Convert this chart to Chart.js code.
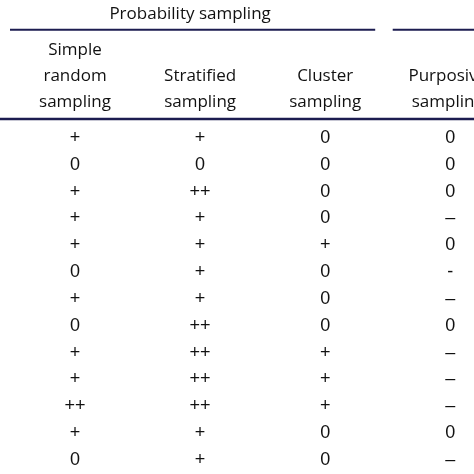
<!DOCTYPE html>
<html><head><meta charset="utf-8">
<script src="https://cdn.jsdelivr.net/npm/chart.js@4"></script>
<style>html,body{margin:0;padding:0;background:#fff}#w{width:474px;height:474px}</style>
</head><body><div id="w"><canvas id="c"></canvas></div>
<script>
const groupTitle = "Probability sampling";
const columns = [["Simple","random","sampling"],["Stratified","sampling"],["Cluster","sampling"],["Purposive","sampling"]];
const simpleRandom = ["+","0","+","+","+","0","+","0","+","+","++","+","0"];
const stratified   = ["+","0","++","+","+","+","+","++","++","++","++","+","+"];
const cluster      = ["0","0","0","0","+","0","0","0","+","+","+","0","0"];
const purposive    = ["0","0","0","–","0","-","–","0","–","–","–","0","–"];
const cols = [simpleRandom, stratified, cluster, purposive];

const pts = [];
cols.forEach((c, ci) => c.forEach((v, ri) => pts.push({x: ci, y: ri, t: v})));

const tablePlugin = {
  id: 'table',
  afterDatasetsDraw(chart) {
    const ctx = chart.ctx, xs = chart.scales.x, ys = chart.scales.y;
    const X = v => xs.getPixelForValue(v), Y = v => ys.getPixelForValue(v);
    ctx.save();
    ctx.fillStyle = '#111';
    ctx.textAlign = 'center'; ctx.textBaseline = 'middle';
    ctx.font = '17px "Open Sans"';
    ctx.fillText(groupTitle, X(0.92), Y(-4.62));
    const rowsY = [-1.34, -2.31, -3.28];
    columns.forEach((lines, ci) => {
      lines.slice().reverse().forEach((l, k) => ctx.fillText(l, X(ci === 3 ? 2.98 + 0.0 : ci) + (ci===3?0:0), Y(rowsY[k])));
    });
    ctx.font = '18px "Liberation Sans"';
    chart.data.datasets[0].data.forEach(p => ctx.fillText(p.t, X(p.x), Y(p.y)));
    ctx.strokeStyle = '#1c1c50';
    ctx.lineWidth = 2;
    ctx.beginPath(); ctx.moveTo(X(-0.52), Y(-4.03)); ctx.lineTo(X(2.4), Y(-4.03)); ctx.stroke();
    ctx.beginPath(); ctx.moveTo(X(2.54), Y(-4.03)); ctx.lineTo(X(3.3), Y(-4.03)); ctx.stroke();
    ctx.lineWidth = 2.5;
    ctx.beginPath(); ctx.moveTo(X(-0.6), Y(-0.71)); ctx.lineTo(X(3.3), Y(-0.71)); ctx.stroke();
    ctx.restore();
  }
};

new Chart(document.getElementById('c'), {
  type: 'scatter',
  data: { datasets: [{ data: pts, pointRadius: 0, pointHoverRadius: 0 }] },
  options: {
    responsive: true, maintainAspectRatio: false, animation: false,
    layout: { padding: 0 },
    plugins: { legend: { display: false }, tooltip: { enabled: false } },
    scales: {
      x: { type: 'linear', min: -0.6, max: 3.19, display: false },
      y: { type: 'linear', reverse: true, min: -5.14, max: 12.52, display: false }
    }
  },
  plugins: [tablePlugin]
});
</script></body></html>
